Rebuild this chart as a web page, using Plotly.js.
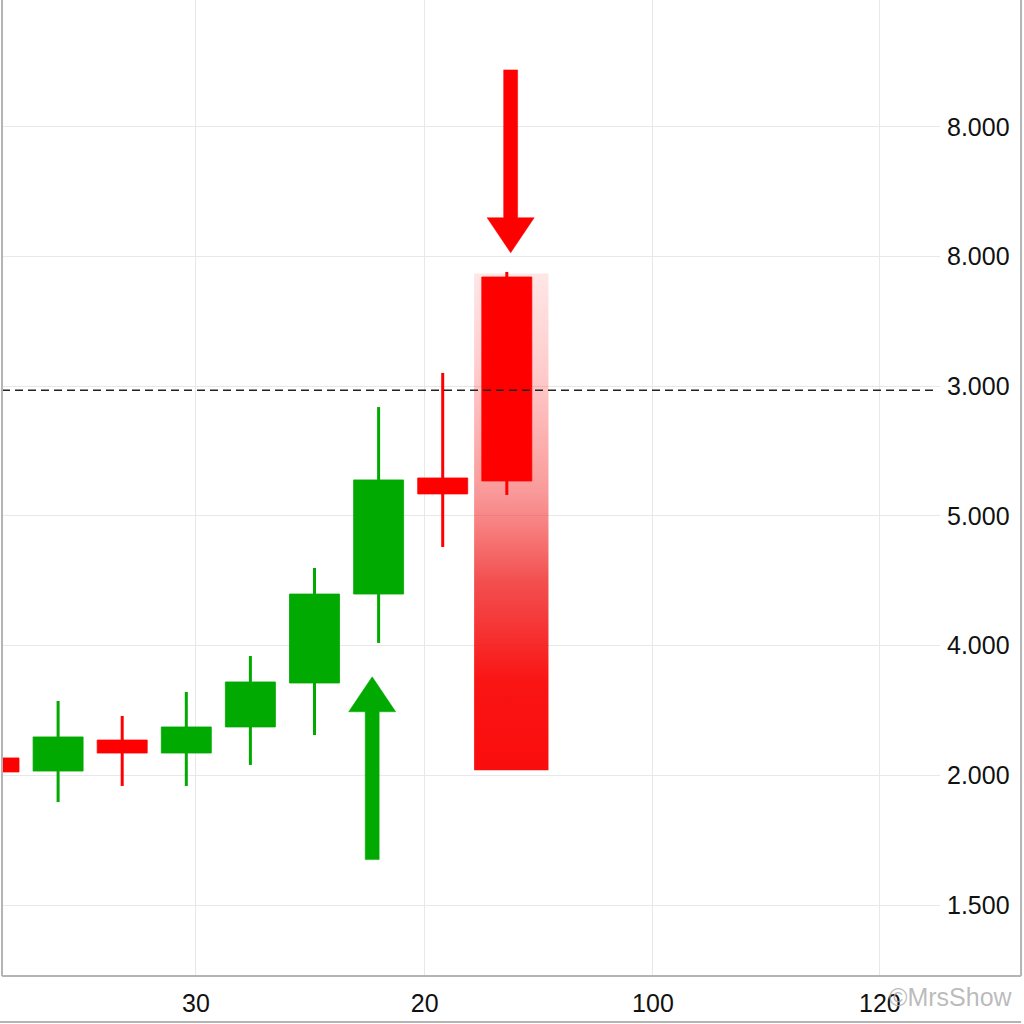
<!DOCTYPE html>
<html><head><meta charset="utf-8">
<script src="https://cdn.plot.ly/plotly-3.0.1.min.js"></script>
<style>html,body{margin:0;padding:0;background:#fff}#chart{width:1024px;height:1024px}</style>
</head><body><div id="chart"></div>
<script>
// ---- data (y in axis-index units, labels via ticktext) ----
const candleX = [0, 1, 2, 3, 4, 5, 6, 7, 8];
const openV  = [1.134, 1.033, 1.272, 1.172, 1.373, 1.712, 2.398, 3.293, 4.843];
const closeV = [1.026, 1.296, 1.172, 1.373, 1.720, 2.398, 3.278, 3.170, 3.270];
const highV  = [1.134, 1.573, 1.458, 1.643, 1.920, 2.599, 3.840, 4.103, 4.882];
const lowV   = [1.026, 0.794, 0.918, 0.918, 1.080, 1.311, 2.021, 2.761, 3.162];
const yTickVals = [0, 1, 2, 3, 4, 5, 6];
const yTickText = ['1.500', '2.000', '4.000', '5.000', '3.000', '8.000', '8.000'];
const xTickVals = [3.15, 6.72, 10.28, 13.82];
const xTickText = ['30', '20', '100', '120'];
const refLevel = 3.97;
const glowX = [8.07];
const glowLow = [1.04];
const glowHigh = [4.87];
const arrowX = [5.90, 8.06];
const arrowTail = [0.35, 6.44];
const arrowTip = [1.76, 5.03];

// ---- styles ----
const GREEN = '#00aa00', RED = '#ff0000';
const BODY_HW = 0.39, GLOW_HW = 0.58;
const SHAFT_HW = 0.109, HEAD_HW = 0.367, HEAD_LEN = 0.27;
const FONT = 'Liberation Sans, Arial, sans-serif';

const traces = [];

// glow behind the last candle
glowX.forEach((gx, i) => {
  traces.push({
    type: 'scatter', mode: 'lines', hoverinfo: 'skip', showlegend: false,
    x: [gx - GLOW_HW, gx + GLOW_HW, gx + GLOW_HW, gx - GLOW_HW, gx - GLOW_HW],
    y: [glowLow[i], glowLow[i], glowHigh[i], glowHigh[i], glowLow[i]],
    fill: 'toself', line: {width: 0, color: 'rgba(0,0,0,0)'},
    fillgradient: {type: 'vertical', colorscale: [
      [0, 'rgba(250,0,0,0.95)'], [0.18, 'rgba(250,8,8,0.95)'],
      [0.38, 'rgba(240,40,40,0.82)'], [0.56, 'rgba(245,70,70,0.55)'],
      [0.8, 'rgba(255,70,70,0.28)'], [1, 'rgba(255,90,90,0.15)']]}
  });
});

// wicks + bodies by direction
['up', 'down'].forEach(dir => {
  const idx = candleX.map((_, i) => i).filter(i => (closeV[i] >= openV[i]) === (dir === 'up'));
  const col = dir === 'up' ? GREEN : RED;
  const wx = [], wy = [], bx = [], by = [];
  idx.forEach(i => {
    const top = Math.max(openV[i], closeV[i]), bot = Math.min(openV[i], closeV[i]);
    const x = candleX[i];
    if (highV[i] > top) { wx.push(x, x, null); wy.push(top, highV[i], null); }
    if (lowV[i] < bot) { wx.push(x, x, null); wy.push(lowV[i], bot, null); }
    bx.push(x - BODY_HW, x + BODY_HW, x + BODY_HW, x - BODY_HW, x - BODY_HW, null);
    by.push(bot, bot, top, top, bot, null);
  });
  traces.push({type: 'scatter', mode: 'lines', x: wx, y: wy, line: {color: col, width: 3},
    hoverinfo: 'skip', showlegend: false, connectgaps: false});
  traces.push({type: 'scatter', mode: 'lines', x: bx, y: by, fill: 'toself', fillcolor: col,
    line: {color: col, width: 0.8}, connectgaps: false, hoverinfo: 'skip', showlegend: false});
});

// arrows
arrowX.forEach((ax, i) => {
  const d = Math.sign(arrowTip[i] - arrowTail[i]);
  const base = arrowTip[i] - d * HEAD_LEN;
  const col = d > 0 ? GREEN : RED;
  traces.push({
    type: 'scatter', mode: 'lines', hoverinfo: 'skip', showlegend: false,
    x: [ax - SHAFT_HW, ax - SHAFT_HW, ax - HEAD_HW, ax, ax + HEAD_HW, ax + SHAFT_HW, ax + SHAFT_HW, ax - SHAFT_HW],
    y: [arrowTail[i], base, base, arrowTip[i], base, base, arrowTail[i], arrowTail[i]],
    fill: 'toself', fillcolor: col, line: {width: 0.5, color: col}
  });
});

const frameCol = '#b4b4b4';
const layout = {
  width: 1024, height: 1024,
  margin: {l: 2, r: 84, t: 0, b: 48},
  paper_bgcolor: '#fff', plot_bgcolor: '#fff',
  showlegend: false,
  font: {family: FONT, color: '#111'},
  xaxis: {range: [0.1248, 14.758], tickvals: xTickVals, ticktext: xTickText,
    showgrid: true, gridcolor: '#e8e8e8', gridwidth: 1, zeroline: false, showline: false,
    ticks: '', tickfont: {size: 25, color: '#111'}, ticklabelstandoff: 10, fixedrange: true},
  yaxis: {range: [-0.5475, 6.979], tickvals: yTickVals, ticktext: yTickText, side: 'right',
    showgrid: true, gridcolor: '#e8e8e8', gridwidth: 1, zeroline: false, showline: false,
    ticks: '', tickfont: {size: 25, color: '#111'}, ticklabelstandoff: 6, fixedrange: true},
  shapes: [
    {type: 'line', xref: 'paper', yref: 'y', x0: 0, x1: 0.995, y0: refLevel, y1: refLevel,
      line: {color: '#222', width: 1.4, dash: '8px,5px'}, layer: 'above'},
    {type: 'line', xref: 'paper', yref: 'paper', x0: 0, x1: 0, y0: 0, y1: 1.01, line: {color: frameCol, width: 2}},
    {type: 'line', xref: 'paper', yref: 'paper', x0: 0, x1: 1.0864, y0: 0, y1: 0, line: {color: frameCol, width: 2}},
    {type: 'line', xref: 'paper', yref: 'paper', x0: 1.0864, x1: 1.0864, y0: 0, y1: 1.01, line: {color: frameCol, width: 2}},
    {type: 'line', xref: 'paper', yref: 'paper', x0: -0.01, x1: 1.0864, y0: -0.0471, y1: -0.0471, line: {color: frameCol, width: 2}}
  ],
  annotations: [
    {xref: 'paper', yref: 'paper', x: 1.0085, y: 1.0105, xanchor: 'left', yanchor: 'middle',
      text: yTickText[yTickText.length - 1], showarrow: false, font: {size: 25, color: '#111'}},
    {xref: 'paper', yref: 'paper', x: 1.08, y: -0.0215, xanchor: 'right', yanchor: 'middle',
      text: '©MrsShow', showarrow: false, font: {size: 25, color: 'rgba(175,175,175,0.85)'}}
  ]
};

Plotly.newPlot('chart', traces, layout, {displayModeBar: false, staticPlot: true});
</script>
</body></html>
